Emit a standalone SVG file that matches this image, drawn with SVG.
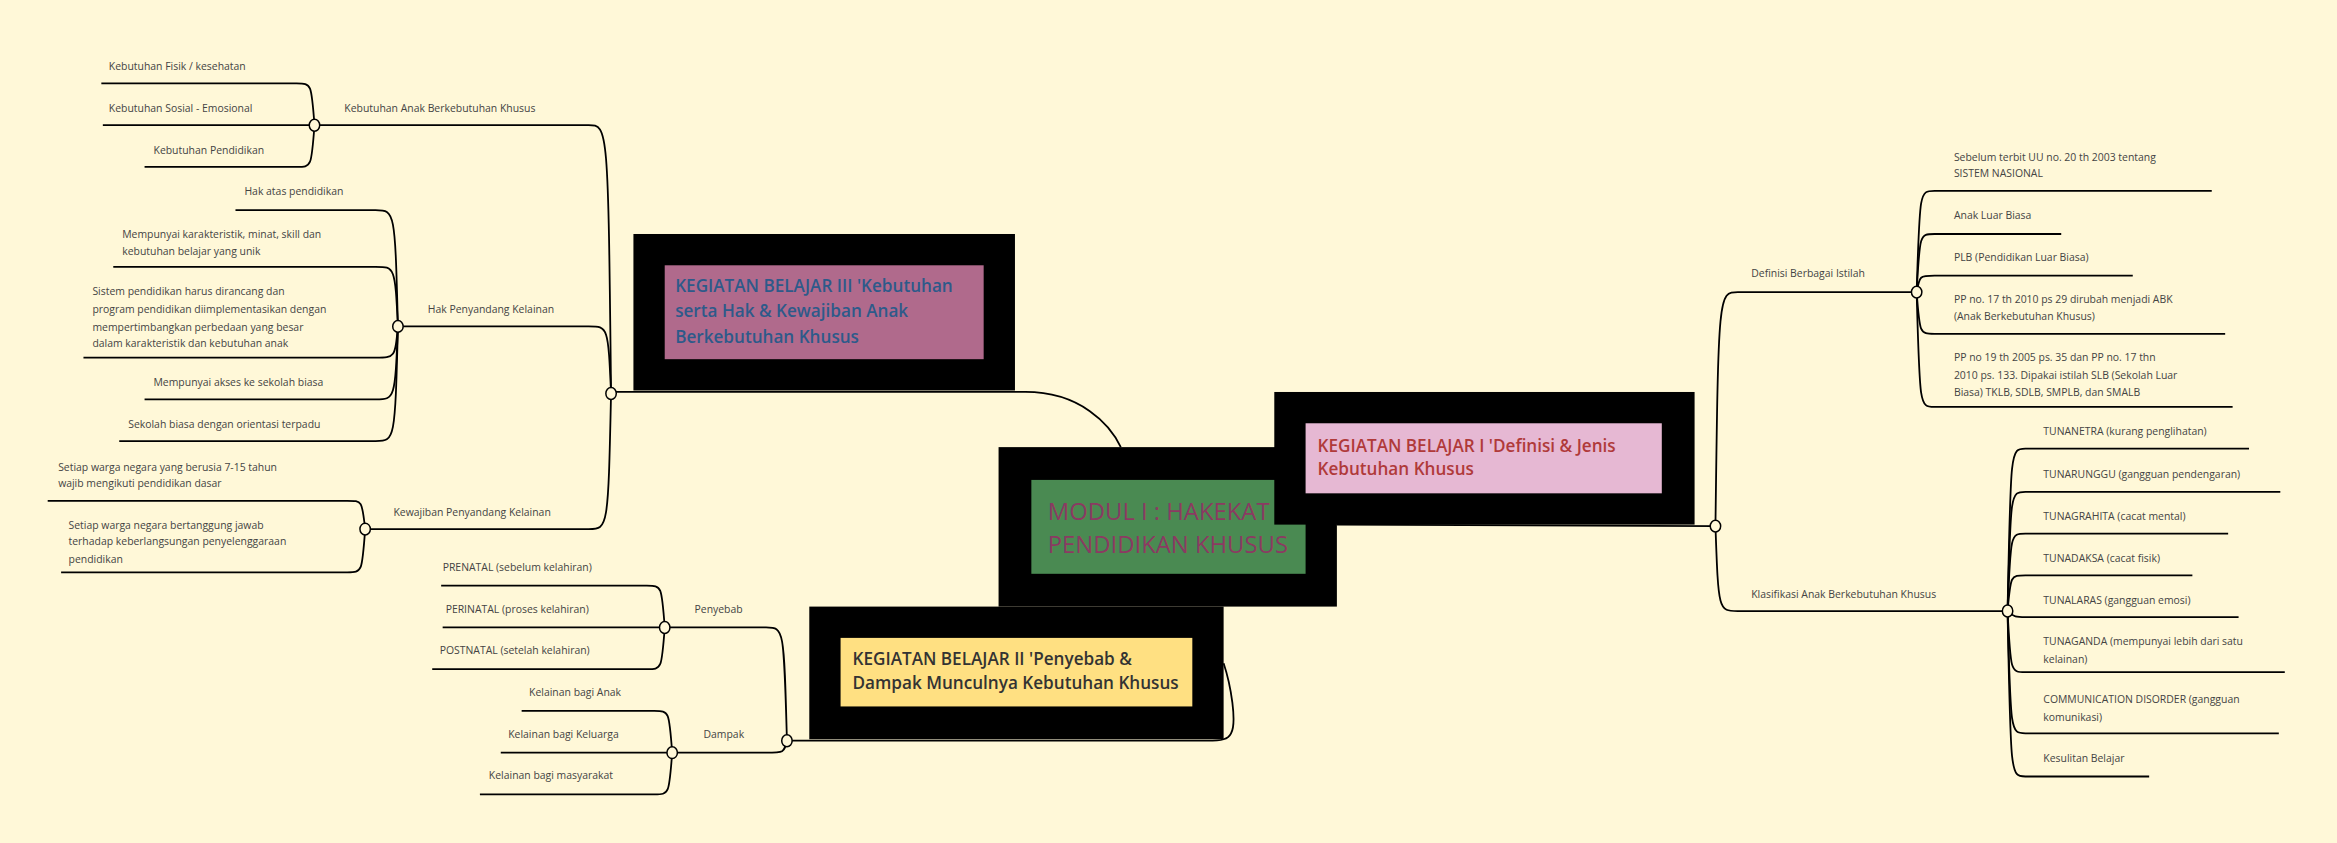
<svg xmlns="http://www.w3.org/2000/svg" width="2337" height="843" viewBox="0 0 2337 843">
<style>
.c{fill:none;stroke:#000;stroke-width:1.2}
.n{fill:#fff8d8;stroke:#000;stroke-width:1}
.t{font-family:"Open Sans",sans-serif;font-size:7px;fill:#444}
.h{font-family:"Open Sans",sans-serif;font-size:11.5px;font-weight:600}
</style>
<rect width="2337" height="843" fill="#fff8d8"/>
<g transform="scale(1.4904)">
<g id="connectors">
<path class="c" d="M410,263 L688,263 C725,263 745,285 752,300"/>
<path class="c" d="M897,352 L1151,353"/>
<path class="c" d="M821,445 C826,460 830,485 826,492 C824,496 820,497 810,497 L528,497"/>
<!-- left hub 410,264 -->
<path class="c" d="M410,264 C408,84 408,84 395,84 L211,84"/>
<path class="c" d="M410,264 C408,219 408,219 395,219 L267,219"/>
<path class="c" d="M410,264 C408,355 408,355 395,355 L245,355"/>
<path class="c" d="M211,84 C209,56 209,56 199,56 L68,56"/>
<path class="c" d="M211,84 L69,84"/>
<path class="c" d="M211,84 C209,112 209,112 199,112 L97,112"/>
<path class="c" d="M267,219 C265,141 265,141 252,141 L158,141"/>
<path class="c" d="M267,219 C265,179 265,179 252,179 L76,179"/>
<path class="c" d="M267,219 C265,240 265,240 252,240 L56,240"/>
<path class="c" d="M267,219 C265,268 265,268 252,268 L97,268"/>
<path class="c" d="M267,219 C265,296 265,296 252,296 L80,296"/>
<path class="c" d="M245,355 C243,336 243,336 233,336 L32,336"/>
<path class="c" d="M245,355 C243,384 243,384 233,384 L41,384"/>
<path class="c" d="M528,497 C526,421 526,421 514,421 L446,421"/>
<path class="c" d="M528,497 C526,505 526,505 514,505 L451,505"/>
<path class="c" d="M446,421 C444,393 444,393 434,393 L296,393"/>
<path class="c" d="M446,421 L297,421"/>
<path class="c" d="M446,421 C444,449 444,449 434,449 L290,449"/>
<path class="c" d="M451,505 C449,477 449,477 439,477 L350,477"/>
<path class="c" d="M451,505 L336,505"/>
<path class="c" d="M451,505 C449,533 449,533 439,533 L322,533"/>
<!-- right hub -->
<path class="c" d="M1151,353 C1153,196 1153,196 1166,196 L1286,196"/>
<path class="c" d="M1151,353 C1153,410 1153,410 1166,410 L1347,410"/>
<path class="c" d="M1286,196 C1288,128 1288,128 1298,128 L1484,128"/>
<path class="c" d="M1286,196 C1288,157 1288,157 1298,157 L1383,157"/>
<path class="c" d="M1286,196 C1288,185 1288,185 1298,185 L1431,185"/>
<path class="c" d="M1286,196 C1288,224 1288,224 1298,224 L1493,224"/>
<path class="c" d="M1286,196 C1288,273 1288,273 1298,273 L1498,273"/>
<path class="c" d="M1347,410 C1349,301 1349,301 1359,301 L1509,301"/>
<path class="c" d="M1347,410 C1349,330 1349,330 1359,330 L1530,330"/>
<path class="c" d="M1347,410 C1349,358 1349,358 1359,358 L1495,358"/>
<path class="c" d="M1347,410 C1349,386 1349,386 1359,386 L1471,386"/>
<path class="c" d="M1347,410 C1351,414 1353,414 1359,414 L1502,414"/>
<path class="c" d="M1347,410 C1349,451 1349,451 1359,451 L1533,451"/>
<path class="c" d="M1347,410 C1349,492 1349,492 1359,492 L1529,492"/>
<path class="c" d="M1347,410 C1349,521 1349,521 1359,521 L1442,521"/>
</g>
<g id="hubs">
<ellipse class="n" cx="410" cy="264" rx="3.5" ry="4"/>
<ellipse class="n" cx="211" cy="84" rx="3.5" ry="4"/>
<ellipse class="n" cx="267" cy="219" rx="3.5" ry="4"/>
<ellipse class="n" cx="245" cy="355" rx="3.5" ry="4"/>
<ellipse class="n" cx="528" cy="497" rx="3.5" ry="4"/>
<ellipse class="n" cx="446" cy="421" rx="3.5" ry="4"/>
<ellipse class="n" cx="451" cy="505" rx="3.5" ry="4"/>
<ellipse class="n" cx="1151" cy="353" rx="3.5" ry="4"/>
<ellipse class="n" cx="1286" cy="196" rx="3.5" ry="4"/>
<ellipse class="n" cx="1347" cy="410" rx="3.5" ry="4"/>
</g>
<g id="labels" class="t">
<text x="231" y="75" class="t">Kebutuhan Anak Berkebutuhan Khusus</text>
<text x="287" y="210" class="t">Hak Penyandang Kelainan</text>
<text x="264" y="346" class="t">Kewajiban Penyandang Kelainan</text>
<text x="73" y="47" class="t">Kebutuhan Fisik / kesehatan</text>
<text x="73" y="75" class="t">Kebutuhan Sosial - Emosional</text>
<text x="103" y="103" class="t">Kebutuhan Pendidikan</text>
<text x="164" y="131" class="t">Hak atas pendidikan</text>
<text x="82" y="160" class="t">Mempunyai karakteristik, minat, skill dan</text>
<text x="82" y="171" class="t">kebutuhan belajar yang unik</text>
<text x="62" y="198" class="t">Sistem pendidikan harus dirancang dan</text>
<text x="62" y="210" class="t">program pendidikan diimplementasikan dengan</text>
<text x="62" y="222" class="t">mempertimbangkan perbedaan yang besar</text>
<text x="62" y="233" class="t">dalam karakteristik dan kebutuhan anak</text>
<text x="103" y="259" class="t">Mempunyai akses ke sekolah biasa</text>
<text x="86" y="287" class="t">Sekolah biasa dengan orientasi terpadu</text>
<text x="39" y="316" class="t">Setiap warga negara yang berusia 7-15 tahun</text>
<text x="39" y="327" class="t">wajib mengikuti pendidikan dasar</text>
<text x="46" y="355" class="t">Setiap warga negara bertanggung jawab</text>
<text x="46" y="366" class="t">terhadap keberlangsungan penyelenggaraan</text>
<text x="46" y="378" class="t">pendidikan</text>
<text x="466" y="411" class="t">Penyebab</text>
<text x="472" y="495" class="t">Dampak</text>
<text x="297" y="383" class="t">PRENATAL (sebelum kelahiran)</text>
<text x="299" y="411" class="t">PERINATAL (proses kelahiran)</text>
<text x="295" y="439" class="t">POSTNATAL (setelah kelahiran)</text>
<text x="355" y="467" class="t">Kelainan bagi Anak</text>
<text x="341" y="495" class="t">Kelainan bagi Keluarga</text>
<text x="328" y="523" class="t">Kelainan bagi masyarakat</text>
<text x="1175" y="186" class="t">Definisi Berbagai Istilah</text>
<text x="1175" y="401" class="t">Klasifikasi Anak Berkebutuhan Khusus</text>
<text x="1311" y="108" class="t">Sebelum terbit UU no. 20 th 2003 tentang</text>
<text x="1311" y="119" class="t">SISTEM NASIONAL</text>
<text x="1311" y="147" class="t">Anak Luar Biasa</text>
<text x="1311" y="175" class="t">PLB (Pendidikan Luar Biasa)</text>
<text x="1311" y="203" class="t">PP no. 17 th 2010 ps 29 dirubah menjadi ABK</text>
<text x="1311" y="215" class="t">(Anak Berkebutuhan Khusus)</text>
<text x="1311" y="242" class="t">PP no 19 th 2005 ps. 35 dan PP no. 17 thn</text>
<text x="1311" y="254" class="t">2010 ps. 133. Dipakai istilah SLB (Sekolah Luar</text>
<text x="1311" y="266" class="t">Biasa) TKLB, SDLB, SMPLB, dan SMALB</text>
<text x="1371" y="292" class="t">TUNANETRA (kurang penglihatan)</text>
<text x="1371" y="321" class="t">TUNARUNGGU (gangguan pendengaran)</text>
<text x="1371" y="349" class="t">TUNAGRAHITA (cacat mental)</text>
<text x="1371" y="377" class="t">TUNADAKSA (cacat fisik)</text>
<text x="1371" y="405" class="t">TUNALARAS (gangguan emosi)</text>
<text x="1371" y="433" class="t">TUNAGANDA (mempunyai lebih dari satu</text>
<text x="1371" y="445" class="t">kelainan)</text>
<text x="1371" y="472" class="t">COMMUNICATION DISORDER (gangguan</text>
<text x="1371" y="484" class="t">komunikasi)</text>
<text x="1371" y="511" class="t">Kesulitan Belajar</text>
</g>
<g id="kb3">
<rect x="425" y="157" width="256" height="105" fill="#000"/>
<rect x="446" y="178" width="214" height="63" fill="#b06a8c"/>
<text class="h" fill="#2d5a8a" x="453" y="196">KEGIATAN BELAJAR III 'Kebutuhan</text>
<text class="h" fill="#2d5a8a" x="453" y="213">serta Hak &amp; Kewajiban Anak</text>
<text class="h" fill="#2d5a8a" x="453" y="230">Berkebutuhan Khusus</text>
</g>
<g id="central">
<rect x="670" y="300" width="227" height="107" fill="#000"/>
<rect x="692" y="322" width="184" height="63" fill="#4a8a52"/>
<text x="703" y="349" font-family="Open Sans,sans-serif" font-size="16" fill="#8b3a62">MODUL I : HAKEKAT</text>
<text x="703" y="371" font-family="Open Sans,sans-serif" font-size="16" fill="#8b3a62">PENDIDIKAN KHUSUS</text>
</g>
<g id="kb1">
<rect x="855" y="263" width="282" height="89" fill="#000"/>
<rect x="876" y="284" width="239" height="47" fill="#e6b8d3"/>
<text class="h" fill="#b03a3a" x="884" y="303">KEGIATAN BELAJAR I 'Definisi &amp; Jenis</text>
<text class="h" fill="#b03a3a" x="884" y="319">Kebutuhan Khusus</text>
</g>
<g id="kb2">
<rect x="543" y="407" width="278" height="89" fill="#000"/>
<rect x="564" y="428" width="236" height="46" fill="#ffe082"/>
<text class="h" fill="#333" x="572" y="446">KEGIATAN BELAJAR II 'Penyebab &amp;</text>
<text class="h" fill="#333" x="572" y="462">Dampak Munculnya Kebutuhan Khusus</text>
</g>
</g>
</svg>
